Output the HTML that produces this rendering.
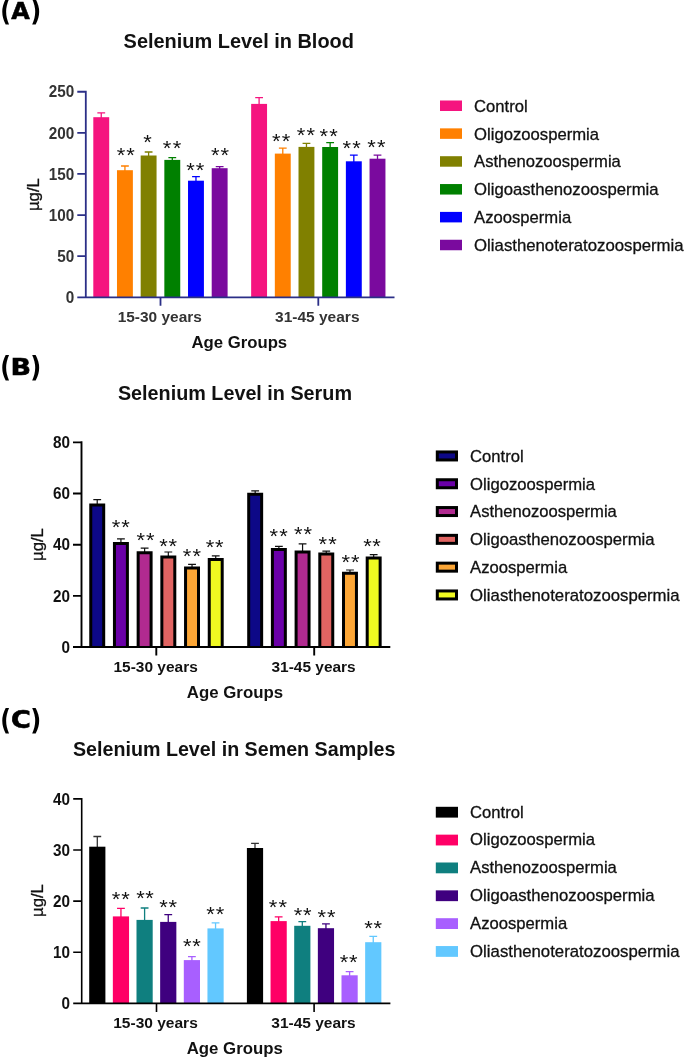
<!DOCTYPE html>
<html lang="en"><head><meta charset="utf-8"><title>Selenium levels</title>
<style>
html,body{margin:0;padding:0;background:#fff}
body{width:685px;height:1061px;overflow:hidden}
svg{display:block;font-family:'Liberation Sans', Arial, Helvetica, sans-serif;filter:blur(.45px)}
.ti{font-size:19.9px;font-weight:700;fill:#111}
.tk{font-size:15.3px;font-weight:700}
.at{font-size:16.5px;font-weight:700;fill:#111}
.yt{fill:#111;stroke:#111;stroke-width:.3px}
.lg{font-size:16.6px;fill:#111;stroke:#111;stroke-width:.3px}
.ast{fill:#111}
.pl{font-family:'DejaVu Sans','Liberation Sans',sans-serif;font-weight:700;font-size:24px;fill:#000}
</style></head><body>
<svg width="685" height="1061" viewBox="0 0 685 1061">
<rect width="685" height="1061" fill="#fff"/>
<g>
<path d="M101.25 118.20V112.80M97.35 112.80H105.15" stroke="#f5147f" stroke-width="1.3" fill="none"/>
<rect x="93.30" y="117.20" width="15.90" height="180.10" fill="#f5147f"/>
<path d="M124.93 171.20V166.00M121.03 166.00H128.83" stroke="#ff8000" stroke-width="1.3" fill="none"/>
<rect x="116.98" y="170.20" width="15.90" height="127.10" fill="#ff8000"/>
<path d="M148.61 156.50V152.00M144.71 152.00H152.51" stroke="#808000" stroke-width="1.3" fill="none"/>
<rect x="140.66" y="155.50" width="15.90" height="141.80" fill="#808000"/>
<path d="M172.29 160.90V157.70M168.39 157.70H176.19" stroke="#008000" stroke-width="1.3" fill="none"/>
<rect x="164.34" y="159.90" width="15.90" height="137.40" fill="#008000"/>
<path d="M195.97 181.70V176.60M192.07 176.60H199.87" stroke="#0000ff" stroke-width="1.3" fill="none"/>
<rect x="188.02" y="180.70" width="15.90" height="116.60" fill="#0000ff"/>
<path d="M219.65 169.20V166.70M215.75 166.70H223.55" stroke="#7a0a9e" stroke-width="1.3" fill="none"/>
<rect x="211.70" y="168.20" width="15.90" height="129.10" fill="#7a0a9e"/>
<path d="M259.10 104.90V97.60M255.20 97.60H263.00" stroke="#f5147f" stroke-width="1.3" fill="none"/>
<rect x="251.15" y="103.90" width="15.90" height="193.40" fill="#f5147f"/>
<path d="M282.78 154.60V148.10M278.88 148.10H286.68" stroke="#ff8000" stroke-width="1.3" fill="none"/>
<rect x="274.83" y="153.60" width="15.90" height="143.70" fill="#ff8000"/>
<path d="M306.46 147.90V143.40M302.56 143.40H310.36" stroke="#808000" stroke-width="1.3" fill="none"/>
<rect x="298.51" y="146.90" width="15.90" height="150.40" fill="#808000"/>
<path d="M330.14 148.00V142.60M326.24 142.60H334.04" stroke="#008000" stroke-width="1.3" fill="none"/>
<rect x="322.19" y="147.00" width="15.90" height="150.30" fill="#008000"/>
<path d="M353.82 162.30V155.20M349.92 155.20H357.72" stroke="#0000ff" stroke-width="1.3" fill="none"/>
<rect x="345.87" y="161.30" width="15.90" height="136.00" fill="#0000ff"/>
<path d="M377.50 159.70V155.20M373.60 155.20H381.40" stroke="#7a0a9e" stroke-width="1.3" fill="none"/>
<rect x="369.55" y="158.70" width="15.90" height="138.60" fill="#7a0a9e"/>
<path d="M85.80 90.85V297.30M84.90 297.30H394.50M77.30 297.30H85.80M77.30 256.19H85.80M77.30 215.08H85.80M77.30 173.97H85.80M77.30 132.86H85.80M77.30 91.75H85.80M160.50 297.30V305.80M318.30 297.30V305.80" stroke="#2b2f87" stroke-width="1.8" fill="none"/>
<text transform="translate(74.20 303.00) scale(1 1.06)" text-anchor="end" class="tk" fill="#333">0</text>
<text transform="translate(74.20 261.89) scale(1 1.06)" text-anchor="end" class="tk" fill="#333">50</text>
<text transform="translate(74.20 220.78) scale(1 1.06)" text-anchor="end" class="tk" fill="#333">100</text>
<text transform="translate(74.20 179.67) scale(1 1.06)" text-anchor="end" class="tk" fill="#333">150</text>
<text transform="translate(74.20 138.56) scale(1 1.06)" text-anchor="end" class="tk" fill="#333">200</text>
<text transform="translate(74.20 97.45) scale(1 1.06)" text-anchor="end" class="tk" fill="#333">250</text>
<text x="117.70" y="321.70" textLength="84.20" lengthAdjust="spacingAndGlyphs" class="tk" fill="#333">15-30 years</text>
<text x="275.10" y="321.70" textLength="84.40" lengthAdjust="spacingAndGlyphs" class="tk" fill="#333">31-45 years</text>
<text x="191.40" y="348.10" textLength="95.80" lengthAdjust="spacingAndGlyphs" class="at">Age Groups</text>
<text transform="translate(38.70 211.00) rotate(-90)" textLength="32.8" lengthAdjust="spacingAndGlyphs" font-size="16.6" class="yt">µg/L</text>
<text x="123.60" y="47.80" textLength="230.30" lengthAdjust="spacingAndGlyphs" class="ti">Selenium Level in Blood</text>
<text transform="translate(0.19 21.27) scale(0.9736 1.1462)" class="pl">(</text>
<text transform="translate(11.28 18.90) scale(0.9978 0.9716)" class="pl" stroke="#000" stroke-width=".55" stroke-linejoin="miter">A</text>
<text transform="translate(30.27 21.27) scale(1.0022 1.1462)" class="pl">)</text>
<text transform="translate(116.85 161.87) scale(1 0.9)" font-size="22" letter-spacing="0.87" class="ast">**</text>
<text transform="translate(143.26 149.47) scale(1 0.9)" font-size="22" class="ast">*</text>
<text transform="translate(162.75 154.57) scale(1 0.9)" font-size="22" letter-spacing="1.47" class="ast">**</text>
<text transform="translate(186.15 176.77) scale(1 0.9)" font-size="22" letter-spacing="1.07" class="ast">**</text>
<text transform="translate(210.95 162.17) scale(1 0.9)" font-size="22" letter-spacing="1.07" class="ast">**</text>
<text transform="translate(271.95 147.77) scale(1 0.9)" font-size="22" letter-spacing="1.37" class="ast">**</text>
<text transform="translate(296.85 142.37) scale(1 0.9)" font-size="22" letter-spacing="1.07" class="ast">**</text>
<text transform="translate(319.55 143.17) scale(1 0.9)" font-size="22" letter-spacing="1.07" class="ast">**</text>
<text transform="translate(342.45 154.57) scale(1 0.9)" font-size="22" letter-spacing="1.17" class="ast">**</text>
<text transform="translate(367.35 153.67) scale(1 0.9)" font-size="22" letter-spacing="1.07" class="ast">**</text>
<rect x="440.00" y="100.50" width="22.00" height="10.50" fill="#f5147f"/>
<text x="474.10" y="111.70" textLength="53.51" lengthAdjust="spacingAndGlyphs" class="lg">Control</text>
<rect x="440.00" y="128.35" width="22.00" height="10.50" fill="#ff8000"/>
<text x="474.10" y="139.55" textLength="124.95" lengthAdjust="spacingAndGlyphs" class="lg">Oligozoospermia</text>
<rect x="440.00" y="156.20" width="22.00" height="10.50" fill="#808000"/>
<text x="474.10" y="167.40" textLength="146.71" lengthAdjust="spacingAndGlyphs" class="lg">Asthenozoospermia</text>
<rect x="440.00" y="184.05" width="22.00" height="10.50" fill="#008000"/>
<text x="474.10" y="195.25" textLength="184.43" lengthAdjust="spacingAndGlyphs" class="lg">Oligoasthenozoospermia</text>
<rect x="440.00" y="211.90" width="22.00" height="10.50" fill="#0000ff"/>
<text x="474.10" y="223.10" textLength="97.08" lengthAdjust="spacingAndGlyphs" class="lg">Azoospermia</text>
<rect x="440.00" y="239.75" width="22.00" height="10.50" fill="#7a0a9e"/>
<text x="474.10" y="250.95" textLength="209.51" lengthAdjust="spacingAndGlyphs" class="lg">Oliasthenoteratozoospermia</text>
</g>
<g>
<path d="M97.22 504.40V499.70M93.32 499.70H101.12" stroke="#111" stroke-width="1.2" fill="none"/>
<path d="M90.75 647.00V504.90H103.70V647.00" fill="#0d0887" stroke="#000" stroke-width="3.0"/>
<path d="M120.93 543.00V538.80M117.03 538.80H124.83" stroke="#111" stroke-width="1.2" fill="none"/>
<path d="M114.45 647.00V543.50H127.40V647.00" fill="#6a00a8" stroke="#000" stroke-width="3.0"/>
<path d="M144.62 552.20V548.20M140.72 548.20H148.53" stroke="#111" stroke-width="1.2" fill="none"/>
<path d="M138.15 647.00V552.70H151.10V647.00" fill="#b12a90" stroke="#000" stroke-width="3.0"/>
<path d="M168.32 556.50V552.00M164.42 552.00H172.22" stroke="#111" stroke-width="1.2" fill="none"/>
<path d="M161.85 647.00V557.00H174.80V647.00" fill="#e16462" stroke="#000" stroke-width="3.0"/>
<path d="M192.03 567.60V564.40M188.12 564.40H195.93" stroke="#111" stroke-width="1.2" fill="none"/>
<path d="M185.55 647.00V568.10H198.50V647.00" fill="#fca636" stroke="#000" stroke-width="3.0"/>
<path d="M215.72 559.10V555.90M211.82 555.90H219.62" stroke="#111" stroke-width="1.2" fill="none"/>
<path d="M209.25 647.00V559.60H222.20V647.00" fill="#f0f921" stroke="#000" stroke-width="3.0"/>
<path d="M255.17 493.80V490.90M251.27 490.90H259.07" stroke="#111" stroke-width="1.2" fill="none"/>
<path d="M248.70 647.00V494.30H261.65V647.00" fill="#0d0887" stroke="#000" stroke-width="3.0"/>
<path d="M278.88 548.90V546.40M274.98 546.40H282.77" stroke="#111" stroke-width="1.2" fill="none"/>
<path d="M272.40 647.00V549.40H285.35V647.00" fill="#6a00a8" stroke="#000" stroke-width="3.0"/>
<path d="M302.57 551.50V543.90M298.67 543.90H306.47" stroke="#111" stroke-width="1.2" fill="none"/>
<path d="M296.10 647.00V552.00H309.05V647.00" fill="#b12a90" stroke="#000" stroke-width="3.0"/>
<path d="M326.27 553.60V551.10M322.38 551.10H330.17" stroke="#111" stroke-width="1.2" fill="none"/>
<path d="M319.80 647.00V554.10H332.75V647.00" fill="#e16462" stroke="#000" stroke-width="3.0"/>
<path d="M349.98 572.80V570.00M346.08 570.00H353.88" stroke="#111" stroke-width="1.2" fill="none"/>
<path d="M343.50 647.00V573.30H356.45V647.00" fill="#fca636" stroke="#000" stroke-width="3.0"/>
<path d="M373.67 557.50V554.70M369.77 554.70H377.57" stroke="#111" stroke-width="1.2" fill="none"/>
<path d="M367.20 647.00V558.00H380.15V647.00" fill="#f0f921" stroke="#000" stroke-width="3.0"/>
<path d="M81.50 441.35V647.00M80.55 647.00H390.30M73.00 647.00H81.50M73.00 595.85H81.50M73.00 544.70H81.50M73.00 493.55H81.50M73.00 442.40H81.50M156.30 647.00V655.50M314.20 647.00V655.50" stroke="#000" stroke-width="1.9" fill="none"/>
<text transform="translate(70.00 652.70) scale(1 1.06)" text-anchor="end" class="tk" fill="#111">0</text>
<text transform="translate(70.00 601.55) scale(1 1.06)" text-anchor="end" class="tk" fill="#111">20</text>
<text transform="translate(70.00 550.40) scale(1 1.06)" text-anchor="end" class="tk" fill="#111">40</text>
<text transform="translate(70.00 499.25) scale(1 1.06)" text-anchor="end" class="tk" fill="#111">60</text>
<text transform="translate(70.00 448.10) scale(1 1.06)" text-anchor="end" class="tk" fill="#111">80</text>
<text x="113.50" y="671.80" textLength="84.30" lengthAdjust="spacingAndGlyphs" class="tk" fill="#111">15-30 years</text>
<text x="271.50" y="671.80" textLength="84.20" lengthAdjust="spacingAndGlyphs" class="tk" fill="#111">31-45 years</text>
<text x="186.80" y="698.00" textLength="96.30" lengthAdjust="spacingAndGlyphs" class="at">Age Groups</text>
<text transform="translate(43.10 560.90) rotate(-90)" textLength="32.8" lengthAdjust="spacingAndGlyphs" font-size="17.4" class="yt">µg/L</text>
<text x="117.90" y="400.30" textLength="234.10" lengthAdjust="spacingAndGlyphs" class="ti">Selenium Level in Serum</text>
<text transform="translate(0.19 377.07) scale(0.9736 1.1462)" class="pl">(</text>
<text transform="translate(10.42 374.70) scale(1.1248 0.9659)" class="pl" stroke="#000" stroke-width=".55" stroke-linejoin="miter">B</text>
<text transform="translate(30.27 377.07) scale(1.0022 1.1462)" class="pl">)</text>
<text transform="translate(111.75 533.67) scale(1 0.9)" font-size="22" letter-spacing="1.07" class="ast">**</text>
<text transform="translate(136.55 546.97) scale(1 0.9)" font-size="22" letter-spacing="0.87" class="ast">**</text>
<text transform="translate(159.25 553.07) scale(1 0.9)" font-size="22" letter-spacing="0.77" class="ast">**</text>
<text transform="translate(182.75 562.57) scale(1 0.9)" font-size="22" letter-spacing="1.17" class="ast">**</text>
<text transform="translate(205.85 554.07) scale(1 0.9)" font-size="22" letter-spacing="0.67" class="ast">**</text>
<text transform="translate(269.55 543.17) scale(1 0.9)" font-size="22" letter-spacing="1.07" class="ast">**</text>
<text transform="translate(293.95 540.67) scale(1 0.9)" font-size="22" letter-spacing="1.07" class="ast">**</text>
<text transform="translate(318.45 550.87) scale(1 0.9)" font-size="22" letter-spacing="1.17" class="ast">**</text>
<text transform="translate(341.55 568.87) scale(1 0.9)" font-size="22" letter-spacing="0.87" class="ast">**</text>
<text transform="translate(363.15 552.67) scale(1 0.9)" font-size="22" letter-spacing="0.67" class="ast">**</text>
<rect x="437.30" y="451.95" width="19.20" height="8.00" fill="#0d0887" stroke="#000" stroke-width="3.0"/>
<text x="470.10" y="461.80" textLength="53.51" lengthAdjust="spacingAndGlyphs" class="lg">Control</text>
<rect x="437.30" y="479.75" width="19.20" height="8.00" fill="#6a00a8" stroke="#000" stroke-width="3.0"/>
<text x="470.10" y="489.60" textLength="124.95" lengthAdjust="spacingAndGlyphs" class="lg">Oligozoospermia</text>
<rect x="437.30" y="507.55" width="19.20" height="8.00" fill="#b12a90" stroke="#000" stroke-width="3.0"/>
<text x="470.10" y="517.40" textLength="146.71" lengthAdjust="spacingAndGlyphs" class="lg">Asthenozoospermia</text>
<rect x="437.30" y="535.35" width="19.20" height="8.00" fill="#e16462" stroke="#000" stroke-width="3.0"/>
<text x="470.10" y="545.20" textLength="184.43" lengthAdjust="spacingAndGlyphs" class="lg">Oligoasthenozoospermia</text>
<rect x="437.30" y="563.15" width="19.20" height="8.00" fill="#fca636" stroke="#000" stroke-width="3.0"/>
<text x="470.10" y="573.00" textLength="97.08" lengthAdjust="spacingAndGlyphs" class="lg">Azoospermia</text>
<rect x="437.30" y="590.95" width="19.20" height="8.00" fill="#f0f921" stroke="#000" stroke-width="3.0"/>
<text x="470.10" y="600.80" textLength="209.51" lengthAdjust="spacingAndGlyphs" class="lg">Oliasthenoteratozoospermia</text>
</g>
<g>
<path d="M97.30 847.70V836.50M93.40 836.50H101.20" stroke="#333" stroke-width="1.3" fill="none"/>
<rect x="89.20" y="846.70" width="16.20" height="156.70" fill="#000000"/>
<path d="M120.95 917.40V908.40M117.05 908.40H124.85" stroke="#ff0066" stroke-width="1.3" fill="none"/>
<rect x="112.85" y="916.40" width="16.20" height="87.00" fill="#ff0066"/>
<path d="M144.60 920.90V908.00M140.70 908.00H148.50" stroke="#0f7f7f" stroke-width="1.3" fill="none"/>
<rect x="136.50" y="919.90" width="16.20" height="83.50" fill="#0f7f7f"/>
<path d="M168.25 922.90V914.70M164.35 914.70H172.15" stroke="#3f007f" stroke-width="1.3" fill="none"/>
<rect x="160.15" y="921.90" width="16.20" height="81.50" fill="#3f007f"/>
<path d="M191.90 961.10V956.60M188.00 956.60H195.80" stroke="#a85fff" stroke-width="1.3" fill="none"/>
<rect x="183.80" y="960.10" width="16.20" height="43.30" fill="#a85fff"/>
<path d="M215.55 929.40V922.90M211.65 922.90H219.45" stroke="#62c8ff" stroke-width="1.3" fill="none"/>
<rect x="207.45" y="928.40" width="16.20" height="75.00" fill="#62c8ff"/>
<path d="M255.00 849.00V843.40M251.10 843.40H258.90" stroke="#333" stroke-width="1.3" fill="none"/>
<rect x="246.90" y="848.00" width="16.20" height="155.40" fill="#000000"/>
<path d="M278.65 922.10V916.90M274.75 916.90H282.55" stroke="#ff0066" stroke-width="1.3" fill="none"/>
<rect x="270.55" y="921.10" width="16.20" height="82.30" fill="#ff0066"/>
<path d="M302.30 926.80V921.60M298.40 921.60H306.20" stroke="#0f7f7f" stroke-width="1.3" fill="none"/>
<rect x="294.20" y="925.80" width="16.20" height="77.60" fill="#0f7f7f"/>
<path d="M325.95 929.20V923.90M322.05 923.90H329.85" stroke="#3f007f" stroke-width="1.3" fill="none"/>
<rect x="317.85" y="928.20" width="16.20" height="75.20" fill="#3f007f"/>
<path d="M349.60 976.30V971.70M345.70 971.70H353.50" stroke="#a85fff" stroke-width="1.3" fill="none"/>
<rect x="341.50" y="975.30" width="16.20" height="28.10" fill="#a85fff"/>
<path d="M373.25 943.20V936.30M369.35 936.30H377.15" stroke="#62c8ff" stroke-width="1.3" fill="none"/>
<rect x="365.15" y="942.20" width="16.20" height="61.20" fill="#62c8ff"/>
<path d="M81.70 798.10V1003.40M80.90 1003.40H390.40M73.20 1003.40H81.70M73.20 952.28H81.70M73.20 901.16H81.70M73.20 850.04H81.70M73.20 798.92H81.70M156.50 1003.40V1011.90M314.10 1003.40V1011.90" stroke="#000" stroke-width="1.6" fill="none"/>
<text transform="translate(70.00 1009.10) scale(1 1.06)" text-anchor="end" class="tk" fill="#111">0</text>
<text transform="translate(70.00 957.98) scale(1 1.06)" text-anchor="end" class="tk" fill="#111">10</text>
<text transform="translate(70.00 906.86) scale(1 1.06)" text-anchor="end" class="tk" fill="#111">20</text>
<text transform="translate(70.00 855.74) scale(1 1.06)" text-anchor="end" class="tk" fill="#111">30</text>
<text transform="translate(70.00 804.62) scale(1 1.06)" text-anchor="end" class="tk" fill="#111">40</text>
<text x="113.20" y="1028.20" textLength="84.60" lengthAdjust="spacingAndGlyphs" class="tk" fill="#111">15-30 years</text>
<text x="271.30" y="1028.20" textLength="84.40" lengthAdjust="spacingAndGlyphs" class="tk" fill="#111">31-45 years</text>
<text x="186.70" y="1054.40" textLength="96.20" lengthAdjust="spacingAndGlyphs" class="at">Age Groups</text>
<text transform="translate(43.20 916.90) rotate(-90)" textLength="32.8" lengthAdjust="spacingAndGlyphs" font-size="17.0" class="yt">µg/L</text>
<text x="73.00" y="755.50" textLength="322.50" lengthAdjust="spacingAndGlyphs" class="ti">Selenium Level in Semen Samples</text>
<text transform="translate(0.19 729.57) scale(0.9736 1.1462)" class="pl">(</text>
<text transform="translate(11.05 727.85) scale(1.1288 1.0357)" class="pl" stroke="#000" stroke-width=".55" stroke-linejoin="miter">C</text>
<text transform="translate(30.27 729.57) scale(1.0022 1.1462)" class="pl">)</text>
<text transform="translate(111.75 905.97) scale(1 0.9)" font-size="22" letter-spacing="1.07" class="ast">**</text>
<text transform="translate(136.15 905.47) scale(1 0.9)" font-size="22" letter-spacing="0.47" class="ast">**</text>
<text transform="translate(159.25 913.57) scale(1 0.9)" font-size="22" letter-spacing="0.77" class="ast">**</text>
<text transform="translate(183.05 953.47) scale(1 0.9)" font-size="22" letter-spacing="0.77" class="ast">**</text>
<text transform="translate(206.35 920.77) scale(1 0.9)" font-size="22" letter-spacing="0.97" class="ast">**</text>
<text transform="translate(268.85 913.57) scale(1 0.9)" font-size="22" letter-spacing="1.07" class="ast">**</text>
<text transform="translate(293.85 921.97) scale(1 0.9)" font-size="22" letter-spacing="0.57" class="ast">**</text>
<text transform="translate(317.45 923.57) scale(1 0.9)" font-size="22" letter-spacing="1.07" class="ast">**</text>
<text transform="translate(339.65 969.17) scale(1 0.9)" font-size="22" letter-spacing="0.87" class="ast">**</text>
<text transform="translate(364.15 935.27) scale(1 0.9)" font-size="22" letter-spacing="0.87" class="ast">**</text>
<rect x="435.80" y="806.80" width="22.20" height="10.80" fill="#000000"/>
<text x="470.10" y="817.60" textLength="53.51" lengthAdjust="spacingAndGlyphs" class="lg">Control</text>
<rect x="435.80" y="834.65" width="22.20" height="10.80" fill="#ff0066"/>
<text x="470.10" y="845.45" textLength="124.95" lengthAdjust="spacingAndGlyphs" class="lg">Oligozoospermia</text>
<rect x="435.80" y="862.50" width="22.20" height="10.80" fill="#0f7f7f"/>
<text x="470.10" y="873.30" textLength="146.71" lengthAdjust="spacingAndGlyphs" class="lg">Asthenozoospermia</text>
<rect x="435.80" y="890.35" width="22.20" height="10.80" fill="#3f007f"/>
<text x="470.10" y="901.15" textLength="184.43" lengthAdjust="spacingAndGlyphs" class="lg">Oligoasthenozoospermia</text>
<rect x="435.80" y="918.20" width="22.20" height="10.80" fill="#a85fff"/>
<text x="470.10" y="929.00" textLength="97.08" lengthAdjust="spacingAndGlyphs" class="lg">Azoospermia</text>
<rect x="435.80" y="946.05" width="22.20" height="10.80" fill="#62c8ff"/>
<text x="470.10" y="956.85" textLength="209.51" lengthAdjust="spacingAndGlyphs" class="lg">Oliasthenoteratozoospermia</text>
</g>
</svg></body></html>
